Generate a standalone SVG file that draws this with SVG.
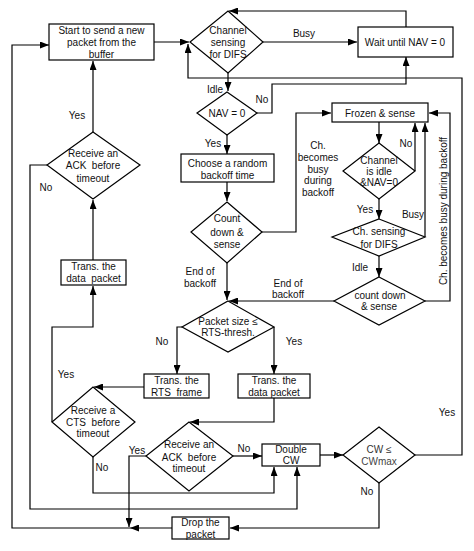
<svg xmlns="http://www.w3.org/2000/svg" width="474" height="551" viewBox="0 0 474 551">
<style>
.s{fill:#fff;stroke:#000;stroke-width:1.2}
.c{fill:none;stroke:#000;stroke-width:1.2;marker-end:url(#a)}
.n{fill:none;stroke:#000;stroke-width:1.2}
text{font-family:"Liberation Sans",Arial,sans-serif;font-size:10px;fill:#111;text-anchor:middle;white-space:pre}
</style>
<defs>
<marker id="a" markerUnits="userSpaceOnUse" markerWidth="9" markerHeight="7" refX="9" refY="3.5" orient="auto">
<path d="M0,0 L9,3.5 L0,7 z" fill="#000"/>
</marker>
</defs>
<rect width="474" height="551" fill="#fff"/>
<g id="connectors">
<path class="c" d="M154,42 H189"/>
<path class="c" d="M263,42 H357"/>
<path class="c" d="M406,27 V11 H229"/>
<path class="c" d="M228,73 V91"/>
<path class="c" d="M257,113 H272 V84 H406 V57"/>
<path class="c" d="M227,135 V154"/>
<path class="c" d="M227,182 V201"/>
<path class="c" d="M262,232 H296 V113 H331"/>
<path class="c" d="M379,122 V143"/>
<path class="c" d="M415,171 V123"/>
<path class="c" d="M379,199 V219"/>
<path class="c" d="M425,237 V123"/>
<path class="c" d="M379,256 V277"/>
<path class="c" d="M425,301 H450 V113 H429"/>
<path class="c" d="M334,301 H229"/>
<path class="c" d="M227,263 V300"/>
<path class="c" d="M182,327 H177 V374"/>
<path class="c" d="M274,327 V374"/>
<path class="c" d="M144,387 H94"/>
<path class="c" d="M52,422 V327 H93 V286"/>
<path class="c" d="M93,260 V200"/>
<path class="c" d="M93,132 V61"/>
<path class="c" d="M47,165 H30 V509 H297 V467"/>
<path class="c" d="M93,457 V493 H274 V467"/>
<path class="c" d="M274,398 V422 H190"/>
<path class="c" d="M233,456 H262"/>
<path class="c" d="M146,456 H129 V527"/>
<path class="c" d="M320,455 H343"/>
<path class="c" d="M415,455 H462 V78 H188 V44"/>
<path class="c" d="M379,483 V528 H230"/>
<path class="c" d="M172,528 H130"/>
<path class="c" d="M130,528 H12 V45 H49"/>
</g>
<g id="labels">
<text x="304" y="36.5">Busy</text>
<text x="215" y="92.5">Idle</text>
<text x="262" y="102.5">No</text>
<text x="213" y="146.5">Yes</text>
<text x="318" y="148.5">Ch.</text>
<text x="318" y="160.5">becomes</text>
<text x="318" y="172.5">busy</text>
<text x="318" y="183.5">during</text>
<text x="318" y="195.5">backoff</text>
<text x="406" y="146.5">No</text>
<text x="365" y="212.5">Yes</text>
<text x="413" y="217.5">Busy</text>
<text x="360" y="270.5">Idle</text>
<text x="288" y="286.5">End of</text>
<text x="288" y="297.5">backoff</text>
<text x="200" y="274.5">End of</text>
<text x="200" y="286.5">backoff</text>
<text transform="translate(446.5,211) rotate(-90)">Ch. becomes busy during backoff</text>
<text x="162" y="344.5">No</text>
<text x="294" y="344.5">Yes</text>
<text x="66" y="377.5">Yes</text>
<text x="102" y="470.5">No</text>
<text x="137" y="453.5">Yes</text>
<text x="244" y="451.5">No</text>
<text x="77" y="118.5">Yes</text>
<text x="46" y="190.5">No</text>
<text x="447" y="415.5">Yes</text>
<text x="367" y="494.5">No</text>
</g>
<g id="start"><rect class="s" x="49" y="24" width="105" height="36"/>
<text x="101.5" y="33.5">Start to send a new</text><text x="101.5" y="45.5">packet from the</text><text x="101.5" y="57.5">buffer</text></g>
<g id="chsense"><polygon class="s" points="228,11 263,42 228,73 190,42"/>
<text x="228" y="34">Channel</text><text x="228" y="46">sensing</text><text x="228" y="57.5">for DIFS</text></g>
<g id="wait"><rect class="s" x="358" y="27" width="95" height="30"/>
<text x="405" y="45.5">Wait until NAV = 0</text></g>
<g id="nav"><polygon class="s" points="227,92 257,113 227,135 197,113"/>
<text x="227" y="116.5">NAV = 0</text></g>
<g id="choose"><rect class="s" x="181" y="154" width="93" height="28"/>
<text x="227.5" y="166.5">Choose a random</text><text x="227.5" y="178.5">backoff time</text></g>
<g id="count"><polygon class="s" points="227,202 262,232 227,263 191,232"/>
<text x="227" y="221.5">Count</text><text x="227" y="235.5">down &amp;</text><text x="227" y="247.5">sense</text></g>
<g id="frozen"><rect class="s" x="332" y="103" width="96" height="19"/>
<text x="380" y="116.5">Frozen &amp; sense</text></g>
<g id="chidle"><polygon class="s" points="379,143 415,171 379,199 343,171"/>
<text x="379" y="163.5">Channel</text><text x="379" y="174.5">is idle</text><text x="379" y="186">&amp;NAV=0</text></g>
<g id="difs"><polygon class="s" points="379,219 425,237 379,256 332,237"/>
<text x="379" y="235">Ch. sensing</text><text x="379" y="247.5">for DIFS</text></g>
<g id="countdown"><polygon class="s" points="379,277 425,301 379,325 334,301"/>
<text x="380" y="298.5">count down</text><text x="379" y="309.5">&amp; sense</text></g>
<g id="pktsize"><polygon class="s" points="228,301 274,327 228,352 182,327"/>
<text x="228" y="325">Packet size ≤</text><text x="228" y="336">RTS-thresh.</text></g>
<g id="rts"><rect class="s" x="144" y="374" width="65" height="24"/>
<text x="176.5" y="384">Trans. the</text><text x="176.5" y="395.5">RTS  frame</text></g>
<g id="data2"><rect class="s" x="238" y="374" width="72" height="24"/>
<text x="274" y="384">Trans. the</text><text x="274" y="395.5">data packet</text></g>
<g id="cts"><polygon class="s" points="93,387 135,422 93,457 52,422"/>
<text x="93" y="413.5">Receive a</text><text x="93" y="425.5">CTS  before</text><text x="93" y="436.5">timeout</text></g>
<g id="data1"><rect class="s" x="61" y="260" width="65" height="25"/>
<text x="93.5" y="269.5">Trans. the</text><text x="93.5" y="281.5">data  packet</text></g>
<g id="ack1"><polygon class="s" points="93,132 140,165 93,199 47,165"/>
<text x="93" y="156.5">Receive an</text><text x="93" y="168.5">ACK  before</text><text x="93" y="181.5">timeout</text></g>
<g id="ack2"><polygon class="s" points="189,422 233,456 189,491 146,456"/>
<text x="189" y="447.5">Receive an</text><text x="189" y="460.5">ACK  before</text><text x="189" y="471.5">timeout</text></g>
<g id="double"><rect class="s" x="262" y="444" width="58" height="22"/>
<text x="291" y="452.5">Double</text><text x="291" y="464">CW</text></g>
<g id="cwmax"><polygon class="s" points="379,427 415,455 379,483 343,455"/>
<text x="379" y="452.5" style="fill:#333">CW ≤</text><text x="379" y="464.5" style="fill:#444">CWmax</text></g>
<g id="drop"><rect class="s" x="172" y="517" width="57" height="22"/>
<text x="200.5" y="526">Drop the</text><text x="200.5" y="538">packet</text></g>
</svg>
